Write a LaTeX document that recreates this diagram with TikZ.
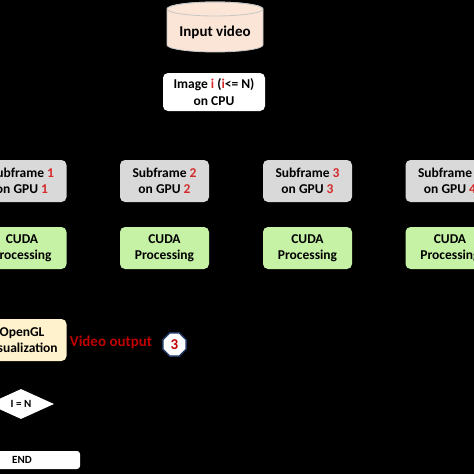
\documentclass[tikz,border=0pt]{standalone}
\usepackage{fontspec}
\setmainfont{Carlito}
\usetikzlibrary{shapes.geometric}
\definecolor{peach}{HTML}{FBE5D6}
\definecolor{subgray}{HTML}{D9D9D9}
\definecolor{cudagreen}{HTML}{C6F2A6}
\definecolor{glyellow}{HTML}{FFF2CC}
\definecolor{numred}{HTML}{D42A2A}
\definecolor{darkred}{HTML}{C00000}
\definecolor{navy}{HTML}{203864}
\tikzset{
  x=1pt, y=-1pt,
  txt/.style={font=\bfseries\fontsize{13.5}{16.5}\selectfont, align=center, text=black},
  boxbase/.style={txt, rounded corners=5pt, minimum width=89pt, minimum height=42pt, inner sep=0pt},
  subbox/.style={boxbase, fill=subgray},
  cudabox/.style={boxbase, fill=cudagreen},
  glbox/.style={boxbase, fill=glyellow},
  cpubox/.style={boxbase, fill=white, minimum width=102pt, minimum height=38pt},
  num/.style={text=numred},
}
\begin{document}
\begin{tikzpicture}
\fill[black] (0,0) rectangle (474,474);
\useasboundingbox (0,0) rectangle (474,474);
% cylinder
\filldraw[fill=peach, draw=gray!45, line width=0.8pt]
  (167,9) -- (167,45) arc[start angle=180, end angle=360, x radius=48, y radius=-7]
  -- (263,9) arc[start angle=0, end angle=180, x radius=48, y radius=-7] -- cycle;
\draw[gray!45, line width=0.8pt] (215,9) ellipse[x radius=48, y radius=7];
\node[txt, font=\bfseries\fontsize{15}{18}\selectfont] (input) at (215,32) {Input video};
% CPU
\node[cpubox] (cpu) at (214,92) {Image {\color{numred}i} ({\color{numred}i}<= N)\\on CPU};
% subframes
\node[subbox] (s1) at (22,181) {Subframe {\color{numred}1}\\on GPU {\color{numred}1}};
\node[subbox] (s2) at (164.5,181) {Subframe {\color{numred}2}\\on GPU {\color{numred}2}};
\node[subbox] (s3) at (307.5,181) {Subframe {\color{numred}3}\\on GPU {\color{numred}3}};
\node[subbox] (s4) at (450,181) {Subframe {\color{numred}4}\\on GPU {\color{numred}4}};
% cuda
\node[cudabox] (c1) at (22,248) {CUDA\\Processing};
\node[cudabox] (c2) at (164.5,248) {CUDA\\Processing};
\node[cudabox] (c3) at (307.5,248) {CUDA\\Processing};
\node[cudabox] (c4) at (450,248) {CUDA\\Processing};
% OpenGL
\node[glbox] (gl) at (22,340) {OpenGL\\Visualization};
\node[txt, text=darkred, font=\bfseries\fontsize{15}{18}\selectfont] (vout) at (111,342) {Video output};
\node[regular polygon, regular polygon sides=8, minimum size=25pt, inner sep=0pt,
  fill=white, draw=navy, line width=1.5pt, text=darkred,
  font=\bfseries\fontsize{15}{18}\selectfont] (three) at (174.5,344.5) {3};
% decision
\node[diamond, fill=white, minimum width=66pt, minimum height=30pt, inner sep=0pt,
  font=\bfseries\fontsize{11}{13}\selectfont] (dec) at (21,404) {I = N};
% END
\node[fill=white, rounded corners=3pt, minimum width=116pt, minimum height=18pt, inner sep=0pt,
  font=\bfseries\fontsize{11}{13}\selectfont] (end) at (22,460) {END};
\end{tikzpicture}
\end{document}
